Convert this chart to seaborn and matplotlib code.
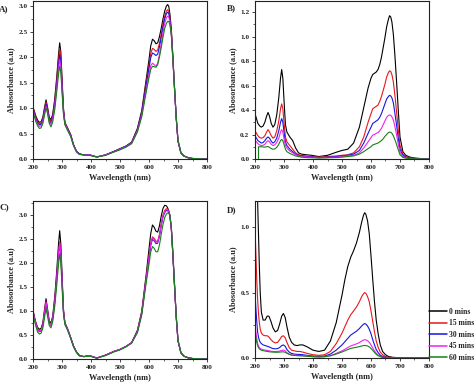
import numpy as np
import pandas as pd
import matplotlib
matplotlib.use("Agg")
import matplotlib.pyplot as plt
from matplotlib.ticker import MultipleLocator
import seaborn as sns

# ---------------- data ----------------
TIMES = ["0 mins", "15 mins", "30 mins", "45 mins", "60 mins"]
COLORS = ["#000000", "#e8161b", "#1515e0", "#f020f0", "#17801a"]

WL = [200, 205, 210, 216, 222, 228, 234, 240, 245, 250, 256, 262, 268, 275, 282, 288, 292, 296, 300, 305,
      310, 320, 330, 340, 350, 360, 375, 395, 420, 450, 480, 500, 520, 540, 560, 575, 590, 600, 606, 612,
      618, 624, 630, 636, 642, 648, 654, 660, 664, 668, 672, 677, 682, 688, 694, 700, 710, 720, 735, 750,
      775, 800]

A_0 = [1.02, 0.93, 0.84, 0.76, 0.72, 0.73, 0.82, 1.02, 1.16, 1.02, 0.82, 0.77, 0.88, 1.18, 1.62, 2.05, 2.28, 2.10, 1.60, 1.00,
       0.72, 0.60, 0.48, 0.28, 0.15, 0.10, 0.08, 0.08, 0.04, 0.08, 0.15, 0.20, 0.25, 0.33, 0.60, 0.95, 1.55, 1.95, 2.22, 2.35,
       2.32, 2.26, 2.28, 2.40, 2.56, 2.74, 2.90, 3.00, 3.03, 3.00, 2.85, 2.55, 2.05, 1.40, 0.80, 0.35, 0.12, 0.06, 0.025, 0.01,
       0.003, 0.0]
A_15 = [1.00, 0.91, 0.81, 0.73, 0.69, 0.70, 0.79, 0.98, 1.12, 0.99, 0.79, 0.74, 0.85, 1.13, 1.55, 1.95, 2.17, 2.00, 1.53, 0.97,
        0.71, 0.59, 0.47, 0.27, 0.15, 0.10, 0.08, 0.08, 0.04, 0.08, 0.15, 0.20, 0.25, 0.32, 0.58, 0.92, 1.48, 1.84, 2.07, 2.17,
        2.15, 2.11, 2.14, 2.27, 2.44, 2.63, 2.80, 2.90, 2.93, 2.90, 2.77, 2.49, 2.01, 1.38, 0.79, 0.35, 0.12, 0.06, 0.025, 0.01,
        0.003, 0.0]
A_30 = [0.97, 0.88, 0.79, 0.71, 0.67, 0.68, 0.77, 0.95, 1.08, 0.96, 0.76, 0.71, 0.82, 1.08, 1.48, 1.85, 2.05, 1.90, 1.46, 0.94,
        0.70, 0.58, 0.46, 0.27, 0.15, 0.10, 0.08, 0.08, 0.04, 0.08, 0.15, 0.20, 0.25, 0.32, 0.57, 0.90, 1.44, 1.78, 1.99, 2.08,
        2.06, 2.03, 2.06, 2.20, 2.38, 2.58, 2.75, 2.85, 2.88, 2.86, 2.74, 2.47, 2.00, 1.38, 0.79, 0.35, 0.12, 0.06, 0.025, 0.01,
        0.003, 0.0]
A_45 = [0.95, 0.86, 0.76, 0.68, 0.64, 0.65, 0.74, 0.91, 1.04, 0.93, 0.73, 0.68, 0.78, 1.03, 1.41, 1.77, 1.95, 1.81, 1.39, 0.91,
        0.69, 0.57, 0.45, 0.26, 0.14, 0.09, 0.08, 0.08, 0.04, 0.08, 0.14, 0.19, 0.24, 0.31, 0.55, 0.86, 1.36, 1.66, 1.83, 1.88,
        1.85, 1.82, 1.88, 2.05, 2.25, 2.47, 2.66, 2.77, 2.80, 2.79, 2.69, 2.44, 1.99, 1.38, 0.80, 0.36, 0.12, 0.06, 0.025, 0.01,
        0.003, 0.0]
A_60 = [0.92, 0.83, 0.73, 0.65, 0.60, 0.61, 0.70, 0.87, 1.00, 0.90, 0.70, 0.63, 0.73, 0.97, 1.33, 1.66, 1.82, 1.70, 1.32, 0.88,
        0.67, 0.55, 0.44, 0.26, 0.14, 0.09, 0.08, 0.07, 0.04, 0.07, 0.14, 0.18, 0.23, 0.30, 0.53, 0.83, 1.30, 1.60, 1.76, 1.82,
        1.81, 1.80, 1.85, 2.00, 2.18, 2.38, 2.56, 2.66, 2.70, 2.70, 2.64, 2.43, 2.00, 1.40, 0.82, 0.37, 0.13, 0.06, 0.025, 0.01,
        0.003, 0.0]

C_0 = [1.02, 0.88, 0.76, 0.66, 0.62, 0.64, 0.76, 1.05, 1.26, 1.05, 0.80, 0.75, 0.90, 1.30, 1.85, 2.40, 2.68, 2.40, 1.80, 1.05,
       0.76, 0.62, 0.45, 0.27, 0.15, 0.07, 0.05, 0.07, 0.02, 0.08, 0.16, 0.20, 0.26, 0.34, 0.60, 1.00, 1.75, 2.30, 2.62, 2.80,
       2.75, 2.67, 2.65, 2.78, 2.98, 3.14, 3.21, 3.20, 3.16, 3.10, 3.00, 2.72, 2.20, 1.52, 0.86, 0.38, 0.13, 0.06, 0.025, 0.01,
       0.003, 0.0]
C_15 = [1.00, 0.86, 0.74, 0.63, 0.59, 0.61, 0.72, 1.00, 1.20, 1.00, 0.77, 0.72, 0.86, 1.22, 1.72, 2.22, 2.45, 2.22, 1.68, 1.00,
        0.74, 0.61, 0.44, 0.26, 0.14, 0.07, 0.05, 0.07, 0.02, 0.08, 0.16, 0.20, 0.26, 0.34, 0.58, 0.97, 1.68, 2.15, 2.42, 2.55,
        2.52, 2.46, 2.46, 2.60, 2.82, 3.00, 3.10, 3.14, 3.13, 3.09, 3.00, 2.73, 2.22, 1.54, 0.87, 0.38, 0.13, 0.06, 0.025, 0.01,
        0.003, 0.0]
C_30 = [0.98, 0.84, 0.72, 0.61, 0.57, 0.59, 0.70, 0.96, 1.15, 0.97, 0.75, 0.70, 0.84, 1.19, 1.68, 2.17, 2.40, 2.18, 1.65, 0.99,
        0.74, 0.61, 0.44, 0.26, 0.14, 0.07, 0.05, 0.07, 0.02, 0.08, 0.16, 0.20, 0.26, 0.34, 0.57, 0.95, 1.65, 2.10, 2.37, 2.50,
        2.47, 2.41, 2.42, 2.56, 2.78, 2.96, 3.06, 3.10, 3.10, 3.07, 2.99, 2.73, 2.22, 1.54, 0.87, 0.38, 0.13, 0.06, 0.025, 0.01,
        0.003, 0.0]
C_45 = [0.99, 0.85, 0.73, 0.62, 0.58, 0.60, 0.71, 0.98, 1.18, 0.99, 0.76, 0.71, 0.85, 1.20, 1.70, 2.20, 2.42, 2.20, 1.66, 1.00,
        0.74, 0.61, 0.44, 0.26, 0.14, 0.07, 0.05, 0.07, 0.02, 0.08, 0.16, 0.20, 0.26, 0.34, 0.57, 0.96, 1.66, 2.12, 2.40, 2.53,
        2.50, 2.44, 2.44, 2.58, 2.80, 2.98, 3.08, 3.12, 3.12, 3.08, 3.00, 2.73, 2.22, 1.54, 0.87, 0.38, 0.13, 0.06, 0.025, 0.01,
        0.003, 0.0]
C_60 = [0.95, 0.81, 0.68, 0.56, 0.52, 0.54, 0.65, 0.88, 1.05, 0.90, 0.70, 0.65, 0.78, 1.10, 1.55, 1.98, 2.20, 2.00, 1.52, 0.95,
        0.72, 0.59, 0.43, 0.25, 0.14, 0.07, 0.05, 0.06, 0.02, 0.07, 0.15, 0.19, 0.25, 0.33, 0.55, 0.92, 1.58, 1.98, 2.24, 2.35,
        2.31, 2.24, 2.24, 2.38, 2.60, 2.80, 2.95, 3.03, 3.05, 3.05, 3.00, 2.76, 2.27, 1.58, 0.90, 0.40, 0.14, 0.06, 0.025, 0.01,
        0.003, 0.0]

B_0 = [0.37, 0.33, 0.29, 0.27, 0.26, 0.27, 0.30, 0.35, 0.38, 0.35, 0.29, 0.26, 0.28, 0.36, 0.50, 0.66, 0.73, 0.66, 0.48, 0.28,
       0.22, 0.18, 0.15, 0.09, 0.05, 0.04, 0.035, 0.03, 0.02, 0.03, 0.055, 0.07, 0.08, 0.13, 0.26, 0.42, 0.58, 0.66, 0.69, 0.70,
       0.71, 0.73, 0.77, 0.83, 0.91, 0.99, 1.08, 1.14, 1.17, 1.16, 1.12, 1.02, 0.86, 0.64, 0.40, 0.18, 0.06, 0.03, 0.015, 0.008,
       0.003, 0.0]
B_15 = [0.23, 0.21, 0.19, 0.175, 0.17, 0.175, 0.19, 0.22, 0.24, 0.22, 0.19, 0.17, 0.18, 0.23, 0.31, 0.41, 0.45, 0.41, 0.30, 0.18,
        0.14, 0.11, 0.08, 0.05, 0.035, 0.03, 0.025, 0.02, 0.015, 0.02, 0.025, 0.03, 0.035, 0.05, 0.10, 0.18, 0.30, 0.37, 0.41, 0.42,
        0.43, 0.44, 0.47, 0.51, 0.56, 0.61, 0.67, 0.705, 0.72, 0.715, 0.69, 0.63, 0.53, 0.39, 0.24, 0.11, 0.04, 0.02, 0.01, 0.005,
        0.002, 0.0]
B_30 = [0.19, 0.17, 0.15, 0.14, 0.13, 0.135, 0.15, 0.17, 0.18, 0.17, 0.145, 0.13, 0.14, 0.17, 0.23, 0.30, 0.33, 0.30, 0.22, 0.14,
        0.11, 0.08, 0.06, 0.04, 0.03, 0.025, 0.02, 0.018, 0.012, 0.015, 0.02, 0.025, 0.03, 0.04, 0.07, 0.13, 0.21, 0.26, 0.29, 0.30,
        0.31, 0.32, 0.34, 0.37, 0.41, 0.45, 0.49, 0.51, 0.52, 0.515, 0.50, 0.46, 0.38, 0.28, 0.17, 0.08, 0.03, 0.015, 0.008, 0.004,
        0.002, 0.0]
B_45 = [0.15, 0.14, 0.125, 0.115, 0.11, 0.112, 0.12, 0.14, 0.15, 0.14, 0.12, 0.11, 0.115, 0.135, 0.17, 0.22, 0.24, 0.22, 0.165, 0.11,
        0.09, 0.065, 0.05, 0.035, 0.025, 0.02, 0.018, 0.015, 0.01, 0.012, 0.016, 0.02, 0.025, 0.03, 0.05, 0.09, 0.14, 0.175, 0.195, 0.20,
        0.21, 0.215, 0.23, 0.25, 0.28, 0.31, 0.34, 0.355, 0.36, 0.357, 0.345, 0.32, 0.27, 0.20, 0.12, 0.055, 0.02, 0.01, 0.005, 0.003,
        0.001, 0.0]
WL_B60 = [212, 212] + WL[3:]
B_60 = [0.0, 0.10, 0.10, 0.10, 0.098, 0.097, 0.10, 0.102, 0.095, 0.085, 0.08, 0.082, 0.095, 0.12, 0.15, 0.16, 0.15, 0.12, 0.08,
        0.06, 0.045, 0.035, 0.025, 0.02, 0.015, 0.012, 0.01, 0.008, 0.01, 0.012, 0.015, 0.02, 0.025, 0.04, 0.06, 0.085, 0.10, 0.115, 0.12,
        0.125, 0.13, 0.14, 0.15, 0.165, 0.185, 0.20, 0.215, 0.22, 0.218, 0.21, 0.19, 0.16, 0.12, 0.075, 0.035, 0.013, 0.007, 0.003, 0.002,
        0.001, 0.0]

WL_D = [200, 203, 206, 209, 212, 215, 218, 222, 228, 235, 242, 248, 255, 262, 270, 278, 285, 292, 298, 304,
        310, 318, 326, 335, 345, 355, 365, 380, 400, 420, 440, 460, 480, 500, 510, 520, 530, 540, 550, 560,
        568, 574, 578, 582, 588, 594, 600, 606, 612, 618, 625, 632, 640, 650, 660, 675, 700, 750, 800]
D_0 = [2.00, 1.75, 1.45, 1.20, 0.95, 0.70, 0.50, 0.35, 0.29, 0.29, 0.32, 0.32, 0.28, 0.23, 0.20, 0.21, 0.26, 0.32, 0.34, 0.31,
       0.24, 0.16, 0.12, 0.10, 0.095, 0.10, 0.10, 0.085, 0.06, 0.05, 0.06, 0.13, 0.27, 0.48, 0.60, 0.70, 0.77, 0.82, 0.88, 0.96,
       1.04, 1.09, 1.11, 1.10, 1.05, 0.95, 0.78, 0.60, 0.43, 0.29, 0.18, 0.10, 0.05, 0.025, 0.012, 0.005, 0.002, 0.001, 0.0]
D_15 = [1.00, 0.80, 0.60, 0.45, 0.34, 0.27, 0.22, 0.19, 0.175, 0.17, 0.17, 0.16, 0.14, 0.125, 0.115, 0.12, 0.14, 0.165, 0.17, 0.155,
        0.12, 0.08, 0.06, 0.055, 0.05, 0.05, 0.045, 0.035, 0.025, 0.02, 0.025, 0.05, 0.11, 0.19, 0.24, 0.29, 0.33, 0.36, 0.39, 0.43,
        0.47, 0.49, 0.50, 0.495, 0.47, 0.43, 0.36, 0.28, 0.20, 0.13, 0.08, 0.045, 0.025, 0.012, 0.006, 0.003, 0.001, 0.0, 0.0]
D_30 = [0.50, 0.38, 0.28, 0.20, 0.16, 0.135, 0.12, 0.11, 0.10, 0.095, 0.09, 0.085, 0.078, 0.072, 0.07, 0.072, 0.08, 0.095, 0.10, 0.09,
        0.065, 0.045, 0.035, 0.03, 0.028, 0.027, 0.025, 0.02, 0.015, 0.012, 0.015, 0.03, 0.06, 0.10, 0.125, 0.15, 0.175, 0.19, 0.205, 0.225,
        0.245, 0.258, 0.263, 0.26, 0.245, 0.22, 0.185, 0.14, 0.10, 0.065, 0.04, 0.022, 0.012, 0.006, 0.003, 0.001, 0.0, 0.0, 0.0]
D_45 = [0.27, 0.20, 0.15, 0.11, 0.09, 0.08, 0.073, 0.068, 0.063, 0.06, 0.058, 0.055, 0.052, 0.05, 0.049, 0.05, 0.053, 0.058, 0.06, 0.055,
        0.04, 0.03, 0.024, 0.022, 0.02, 0.019, 0.018, 0.015, 0.01, 0.008, 0.01, 0.018, 0.035, 0.055, 0.067, 0.08, 0.092, 0.10, 0.108, 0.118,
        0.13, 0.137, 0.14, 0.139, 0.132, 0.12, 0.10, 0.077, 0.055, 0.036, 0.022, 0.012, 0.006, 0.003, 0.002, 0.001, 0.0, 0.0, 0.0]
D_60 = [0.20, 0.155, 0.12, 0.095, 0.08, 0.07, 0.064, 0.06, 0.056, 0.053, 0.05, 0.048, 0.046, 0.045, 0.044, 0.044, 0.045, 0.047, 0.047, 0.044,
        0.036, 0.028, 0.022, 0.02, 0.018, 0.017, 0.016, 0.013, 0.01, 0.008, 0.01, 0.017, 0.03, 0.046, 0.055, 0.065, 0.073, 0.078, 0.082, 0.087,
        0.092, 0.095, 0.096, 0.095, 0.092, 0.085, 0.073, 0.058, 0.043, 0.028, 0.017, 0.01, 0.005, 0.003, 0.002, 0.001, 0.0, 0.0, 0.0]

PANELS = {
    "A)": ([WL] * 5, [A_0, A_15, A_30, A_45, A_60]),
    "B)": ([WL] * 4 + [WL_B60], [B_0, B_15, B_30, B_45, B_60]),
    "C)": ([WL] * 5, [C_0, C_15, C_30, C_45, C_60]),
    "D)": ([WL_D] * 5, [D_0, D_15, D_30, D_45, D_60]),
}

# ---------------- style ----------------
sns.set_style("ticks")
plt.rcParams["font.family"] = ["Liberation Serif", "DejaVu Serif"]
plt.rcParams["font.weight"] = "bold"
plt.rcParams["axes.labelweight"] = "bold"

W, H = 474, 390
fig = plt.figure(figsize=(W / 100, H / 100), dpi=100)

def frac(x0, y_top, x1, y_bot):
    return [x0 / W, 1 - y_bot / H, (x1 - x0) / W, (y_bot - y_top) / H]

layout = {
    "A)": (frac(33, 1, 207, 159), (0, 3.1), 0.5, 0.25, (-1, 9)),
    "B)": (frac(255, 1, 429, 159), (0, 1.29), 0.2, 0.1, (227, 8)),
    "C)": (frac(33, 201, 207, 359), (0, 3.3), 0.5, 0.25, (0, 207)),
    "D)": (frac(255, 201, 429, 358), (0, 1.2), 0.5, 0.25, (227, 210)),
}

palette = dict(zip(TIMES, COLORS))
axD = None
for name, (wls, series) in PANELS.items():
    rect, ylim, ymaj, ymin, lpos = layout[name]
    ax = fig.add_axes(rect)
    frames = []
    for t, wl, vals in zip(TIMES, wls, series):
        frames.append(pd.DataFrame({"Wavelength": wl, "Abs": vals, "Time": t}))
    df = pd.concat(frames, ignore_index=True)
    sns.lineplot(data=df, x="Wavelength", y="Abs", hue="Time", palette=palette,
                 estimator=None, sort=False, linewidth=0.8, ax=ax, legend=(name == "D)"))
    ax.set_xlim(200, 800)
    ax.set_ylim(*ylim)
    ax.xaxis.set_major_locator(MultipleLocator(100))
    ax.xaxis.set_minor_locator(MultipleLocator(50))
    ax.yaxis.set_major_locator(MultipleLocator(ymaj))
    ax.yaxis.set_minor_locator(MultipleLocator(ymin))
    ax.tick_params(which="major", direction="out", length=2.5, width=0.6, labelsize=5.2, pad=1.5)
    ax.tick_params(which="minor", direction="out", length=1.5, width=0.5)
    for lab in ax.get_xticklabels() + ax.get_yticklabels():
        lab.set_fontweight("bold")
    for sp in ax.spines.values():
        sp.set_visible(True)
        sp.set_linewidth(0.8)
        sp.set_color("#222222")
    ax.set_xlabel("Wavelength (nm)", fontsize=6, fontweight="bold", labelpad=3)
    ax.set_ylabel("Abosorbance (a.u)", fontsize=6, fontweight="bold", labelpad=2)
    fig.text(lpos[0] / W, 1 - lpos[1] / H, name, fontsize=6.5, fontweight="bold",
             ha="left", va="center")
    if name == "D)":
        axD = ax

handles, labels = axD.get_legend_handles_labels()
axD.get_legend().remove()
leg = fig.legend(handles, labels, loc="upper left", bbox_to_anchor=(429 / W, 1 - 308 / H),
                 frameon=False, fontsize=5.5, handlelength=2.3, handletextpad=0.3,
                 labelspacing=0.45, borderaxespad=0, borderpad=0)
for txt in leg.get_texts():
    txt.set_fontweight("bold")
for ln in leg.get_lines():
    ln.set_linewidth(1.1)

fig.savefig("out.png", dpi=100)
